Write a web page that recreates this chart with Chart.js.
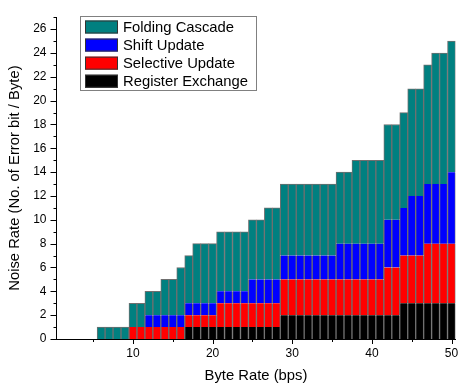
<!DOCTYPE html>
<html>
<head>
<meta charset="utf-8">
<script src="https://cdn.jsdelivr.net/npm/chart.js@4.4.0/dist/chart.umd.min.js"></script>
<style>
html,body{margin:0;padding:0;background:#ffffff;}
#wrap{width:474px;height:391px;position:relative;}
</style>
</head>
<body>
<div id="wrap"><canvas id="c" width="474" height="391"></canvas></div>
<script>
// ---- data ----
const byteRates = [1,2,3,4,5,6,7,8,9,10,11,12,13,14,15,16,17,18,19,20,21,22,23,24,25,26,27,28,29,30,31,32,33,34,35,36,37,38,39,40,41,42,43,44,45,46,47,48,49,50];
const registerExchange = [0,0,0,0,0,0,0,0,0,0, 0,0,0,0,0,0,1,1,1,1, 1,1,1,1,1,1,1,1,2,2, 2,2,2,2,2,2,2,2,2,2, 2,2,2,3,3,3,3,3,3,3];
const selectiveUpdate  = [0,0,0,0,0,0,0,0,0,1, 1,1,1,1,1,1,1,1,1,1, 2,2,2,2,2,2,2,2,3,3, 3,3,3,3,3,3,3,3,3,3, 3,4,4,4,4,4,5,5,5,5];
const shiftUpdate      = [0,0,0,0,0,0,0,0,0,0, 0,1,1,1,1,1,1,1,1,1, 1,1,1,1,2,2,2,2,2,2, 2,2,2,2,2,3,3,3,3,3, 3,4,4,4,5,5,5,5,5,6];
const foldingCascade   = [0,0,0,0,0,1,1,1,1,2, 2,2,2,3,3,4,4,5,5,5, 5,5,5,5,5,5,6,6,6,6, 6,6,6,6,6,6,6,7,7,7, 7,8,8,8,9,9,10,11,11,11];
const seriesNames = ['Register Exchange','Selective Update','Shift Update','Folding Cascade'];
const xTickLabels = [10,20,30,40,50];
const yTickLabels = [0,2,4,6,8,10,12,14,16,18,20,22,24,26];

const FONT = "'Liberation Sans', Arial, sans-serif";
const colors = ['#000000','#ff0000','#0000ff','#008080'];
const seriesValues = [registerExchange, selectiveUpdate, shiftUpdate, foldingCascade];

const datasets = seriesValues.map((vals, k) => ({
  label: seriesNames[k],
  data: byteRates.map((b, i) => ({x: b, y: vals[i] ? vals[i] : null})),
  backgroundColor: colors[k],
  borderColor: '#6f6f6f',
  borderWidth: k === 3 ? {left:1, right:1, top:1, bottom:0} : {left:1, right:1, top:0, bottom:0},
  borderSkipped: 'start',
  barPercentage: 1.0,
  categoryPercentage: 1.0
}));

const nearInt = v => Math.abs(v - Math.round(v)) < 1e-6;

const boxLegend = {
  id: 'boxLegend',
  afterDraw(chart) {
    const ctx = chart.ctx;
    ctx.save();
    ctx.fillStyle = '#ffffff';
    ctx.fillRect(80.5, 16.5, 176, 74);
    ctx.strokeStyle = '#808080';
    ctx.lineWidth = 1;
    ctx.strokeRect(80.5, 16.5, 176, 74);
    const ds = chart.data.datasets.slice().reverse();
    ds.forEach((d, i) => {
      const cy = 27 + i * 18.07;
      ctx.fillStyle = d.backgroundColor;
      ctx.fillRect(85, cy - 6.5, 33, 13);
      ctx.strokeStyle = '#333333';
      ctx.strokeRect(85.5, cy - 6, 32, 12);
      ctx.fillStyle = '#000000';
      ctx.font = '14.8px ' + FONT;
      ctx.textBaseline = 'middle';
      ctx.textAlign = 'left';
      ctx.fillText(d.label, 123, cy + 0.5);
    });
    ctx.restore();
  }
};

const tickMarks = {
  id: 'tickMarks',
  afterDraw(chart) {
    const {ctx, scales: {x, y}} = chart;
    ctx.save();
    ctx.strokeStyle = '#000000';
    ctx.lineWidth = 1;
    ctx.beginPath();
    for (let v = 5; v <= 50; v += 5) {
      const px = Math.round(x.getPixelForValue(v)) + 0.5;
      ctx.moveTo(px, y.bottom);
      ctx.lineTo(px, y.bottom + (xTickLabels.includes(v) ? 5 : 3));
    }
    for (let v = 0; v <= 27; v++) {
      const py = Math.round(y.getPixelForValue(v)) + 0.5;
      ctx.moveTo(x.left, py);
      ctx.lineTo(x.left - (yTickLabels.includes(v) ? 6 : 3), py);
    }
    ctx.stroke();
    // x tick labels drawn at the scale's own pixel positions
    ctx.fillStyle = '#000000';
    ctx.font = '12px ' + FONT;
    ctx.textAlign = 'center';
    ctx.textBaseline = 'top';
    xTickLabels.forEach(v => {
      ctx.fillText(String(v), x.getPixelForValue(v), y.bottom + 9);
    });
    ctx.restore();
  }
};

new Chart(document.getElementById('c'), {
  type: 'bar',
  data: { datasets },
  plugins: [boxLegend, tickMarks],
  options: {
    responsive: false,
    animation: false,
    events: [],
    layout: { padding: { left: 0, right: 18.5, top: 16, bottom: 0 } },
    plugins: { legend: { display: false }, tooltip: { enabled: false } },
    scales: {
      x: {
        type: 'linear',
        stacked: true,
        offset: false,
        min: 0.4,
        max: 50.5,
        afterFit(s) { s.height = 52; },
        grid: { display: false, drawTicks: false, offset: false },
        border: { display: true, color: '#000000', width: 1 },
        ticks: {
          display: false
        },
        title: {
          display: true,
          text: 'Byte Rate (bps)',
          color: '#000000',
          font: { family: FONT, size: 14.8 },
          padding: { top: 0, bottom: 6 }
        }
      },
      y: {
        stacked: true,
        min: 0,
        max: 27,
        afterFit(s) { s.width = 56.5; },
        grid: { display: false, drawTicks: false },
        border: { display: true, color: '#000000', width: 1 },
        ticks: {
          stepSize: 1,
          autoSkip: false,
          padding: 10,
          color: '#000000',
          font: { family: FONT, size: 12 },
          callback: v => (nearInt(v) && yTickLabels.includes(Math.round(v))) ? String(Math.round(v)) : ''
        },
        title: {
          display: true,
          text: 'Noise Rate (No. of Error bit / Byte)',
          color: '#000000',
          font: { family: FONT, size: 14.8 },
          padding: { top: 6, bottom: 0 }
        }
      }
    }
  }
});
</script>
</body>
</html>
